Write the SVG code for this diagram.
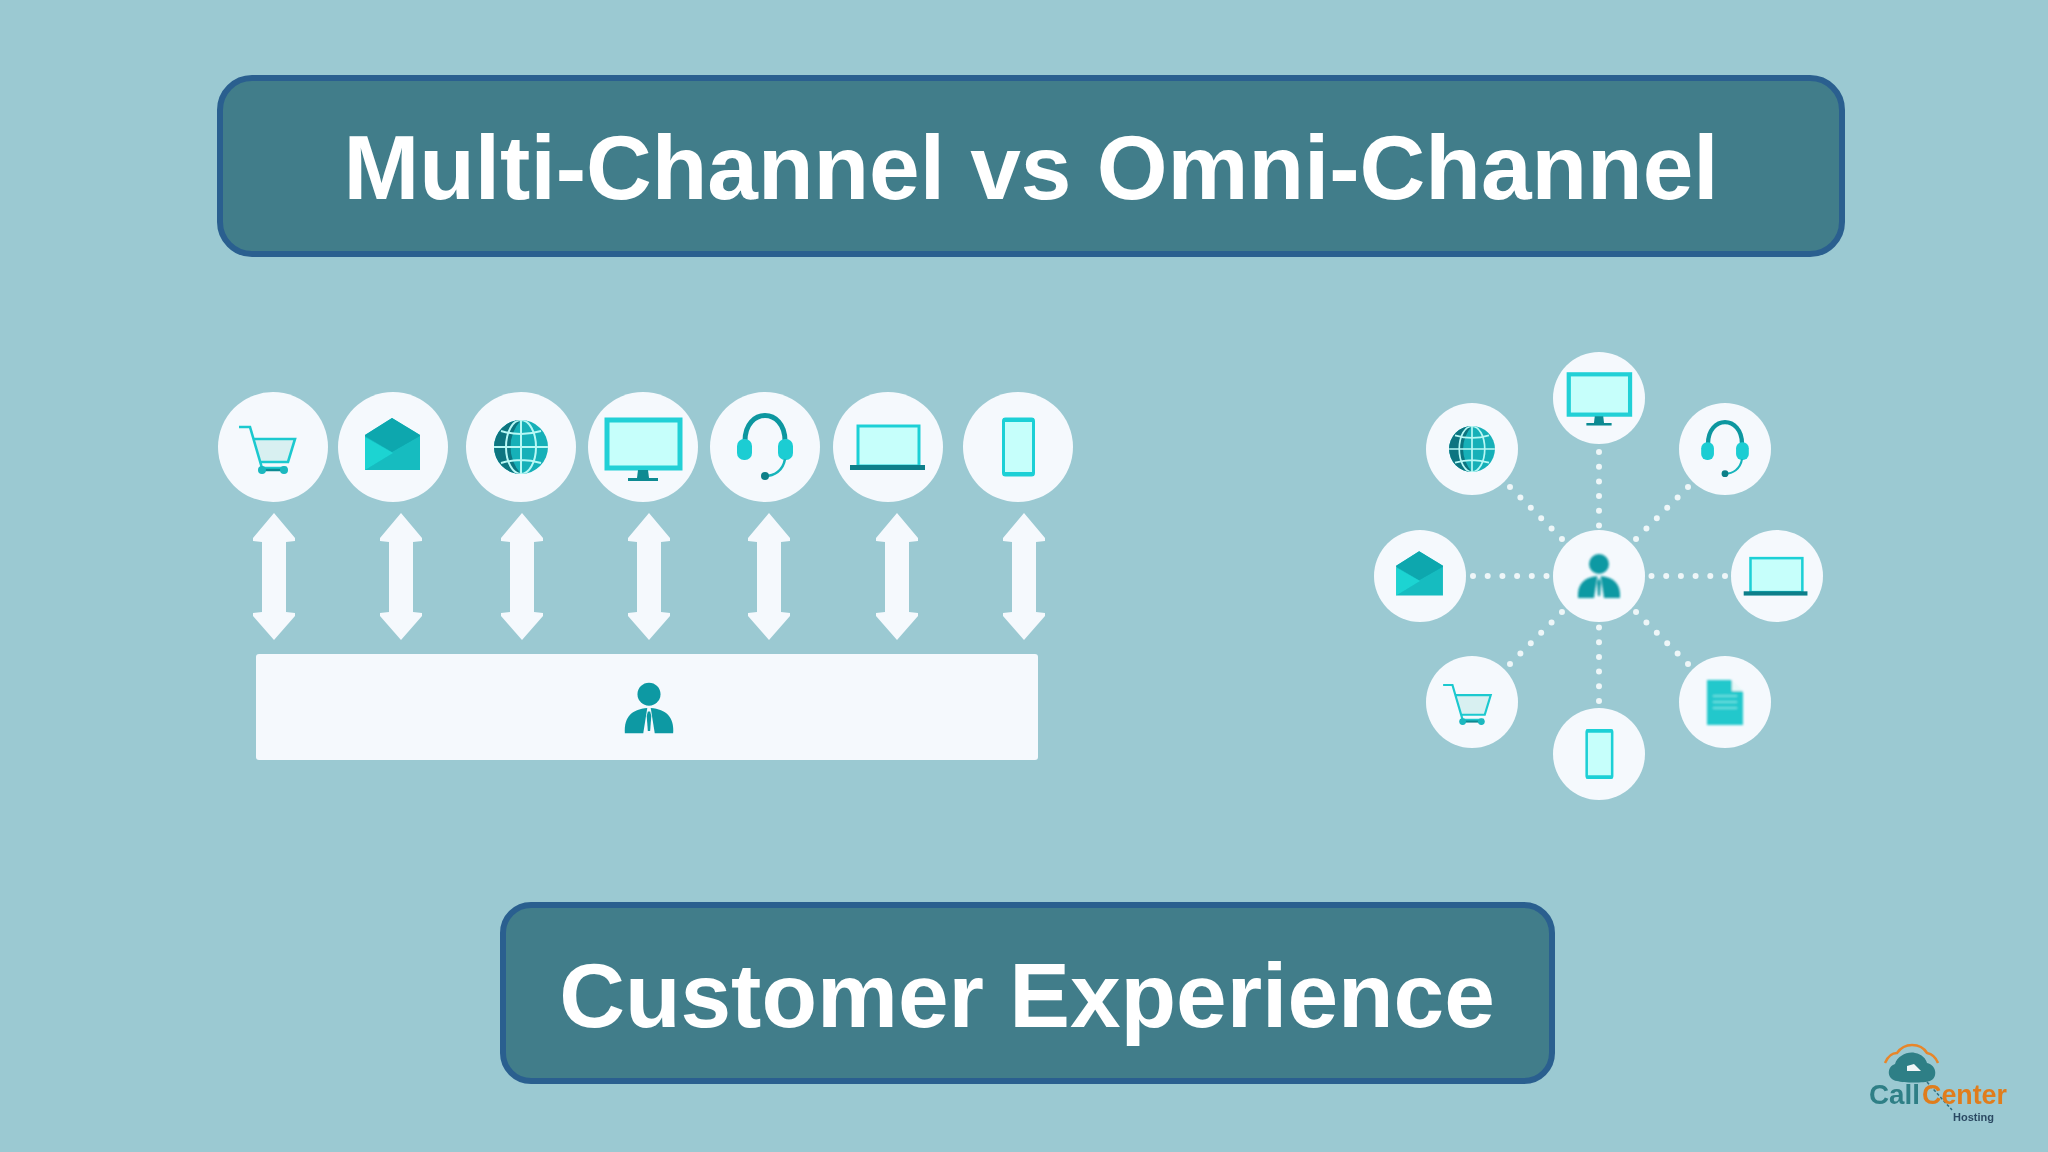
<svg xmlns="http://www.w3.org/2000/svg" width="2048" height="1152" viewBox="0 0 2048 1152">
<style>
.box{fill:#417d8a;stroke:#2a5f8f;stroke-width:6}
.ttl{font-family:"Liberation Sans",Arial,sans-serif;font-weight:700;fill:#fff;text-anchor:middle;font-size:91px}
.disc{fill:#f5f9fd}
.dots{fill:none;stroke:#eef6f8;stroke-width:6;stroke-linecap:round;stroke-dasharray:0 14.700}
.lg{font-family:"Liberation Sans",Arial,sans-serif;font-weight:700}
</style>
<defs>
<filter id="s1" x="-10%" y="-10%" width="120%" height="120%"><feGaussianBlur stdDeviation="0.5"/></filter>
<filter id="s2" x="-10%" y="-10%" width="120%" height="120%"><feGaussianBlur stdDeviation="0.9"/></filter>
<clipPath id="gc"><circle r="27"/></clipPath>
<path id="dbl" d="M0 0L21 25V28L12 29V99L21 100V103L0 127L-21 103V100L-12 99V29L-21 28V25Z" fill="#f5f9fd"/>
<g id="cart">
<path d="M-18-8H22L15 15H-12Z" fill="#d8f0f1"/>
<path d="M-34-20H-23L-11 21H14M-19-8H22L15 15H-13" fill="none" stroke="#1ec9cf" stroke-width="2.600"/>
<path d="M-10 23H11" stroke="#0c8a92" stroke-width="2.500"/>
<circle cx="-11" cy="23" r="4" fill="#1ab8bf"/><circle cx="11" cy="23" r="4" fill="#1ab8bf"/>
</g>
<g id="mail">
<path d="M-28-12L-1-29L27-12V23H-28Z" fill="#14bcc0"/>
<path d="M-28-12L-1-29L27-12V-11L-1 5L-28-11Z" fill="#0fa7ae"/>
<path d="M-28-10L0 6L-28 23Z" fill="#1cd4d2"/>
</g>
<g id="globe">
<circle r="27" fill="#16b0b8"/>
<path d="M0-27A27 27 0 0 0 0 27A40 40 0 0 1 0-27Z" fill="#0a7580"/>
<g clip-path="url(#gc)" fill="none" stroke="#b8f8f5" stroke-width="2">
<path d="M-27 0H27M0-27V27M-20-16Q0-10 20-16M-20 16Q0 10 20 16"/>
<ellipse rx="15" ry="27"/>
</g>
</g>
<g id="monitor">
<rect x="-36" y="-27" width="73" height="48" fill="#c6fffb" stroke="#20d0d6" stroke-width="5"/>
<path d="M-5 23H5L6 31H15V34H-15V31H-6Z" fill="#0b8a92"/>
</g>
<g id="head">
<path d="M-20-6C-20-40 20-40 20-6" fill="none" stroke="#0f97a0" stroke-width="5"/>
<rect x="-28" y="-8" width="15" height="21" rx="7" fill="#1ccdd3"/>
<rect x="13" y="-8" width="15" height="21" rx="7" fill="#1ccdd3"/>
<path d="M20 12C18 24 9 29 0 29" fill="none" stroke="#15b4bb" stroke-width="2.500"/>
<circle cy="29" r="4" fill="#0b7f88"/>
</g>
<g id="laptop">
<rect x="-30" y="-21" width="61" height="40" fill="#c6fffb" stroke="#1fd0d6" stroke-width="3"/>
<rect x="-38" y="18" width="75" height="5" fill="#0a7f8a"/>
</g>
<g id="phone">
<rect x="-14.500" y="-28" width="30" height="56" rx="2" fill="#c6fffb" stroke="#1fd0d6" stroke-width="3"/>
<path d="M-15-29H16V-25H-15ZM-15 25H16V29H-15Z" fill="#1fd0d6"/>
</g>
<g id="person" fill="#0e99a3">
<circle cy="-12" r="10"/>
<path d="M-1.500 0L-5 22H-21C-22 8-15 1-1.500 0Z"/>
<path d="M1.500 0L5 22H21C22 8 15 1 1.500 0Z"/>
<path d="M-1 3H1L2 7L1 20H-1L-2 7Z"/>
</g>
<g id="doc">
<path d="M-18-22H6L18-10V23H-18Z" fill="#20c8cc"/>
<path d="M-12-6H12M-12 0H12M-12 6H12" stroke="#7fe5e5" stroke-width="1.500"/>
<path d="M7-22L18-11H7Z" fill="#e8f8f8"/>
</g>
</defs>

<rect id="background" width="2048" height="1152" fill="#9bc9d2"/>

<g id="title-box">
<rect class="box" x="220" y="78" width="1622" height="176" rx="32"/>
<text class="ttl" x="1031" y="199">Multi-Channel vs Omni-Channel</text>
</g>

<g id="multi-connectors" filter="url(#s1)">
<use href="#dbl" x="274" y="513"/>
<use href="#dbl" x="401" y="513"/>
<use href="#dbl" x="522" y="513"/>
<use href="#dbl" x="649" y="513"/>
<use href="#dbl" x="769" y="513"/>
<use href="#dbl" x="897" y="513"/>
<use href="#dbl" x="1024" y="513"/>
</g>

<g id="multi-cart"><circle class="disc" cx="273" cy="447" r="55"/><use href="#cart" transform="translate(273 447)" filter="url(#s1)"/></g>
<g id="multi-mail"><circle class="disc" cx="393" cy="447" r="55"/><use href="#mail" transform="translate(393 447)" filter="url(#s1)"/></g>
<g id="multi-globe"><circle class="disc" cx="521" cy="447" r="55"/><use href="#globe" transform="translate(521 447)" filter="url(#s1)"/></g>
<g id="multi-monitor"><circle class="disc" cx="643" cy="447" r="55"/><use href="#monitor" transform="translate(643 447)" filter="url(#s1)"/></g>
<g id="multi-headset"><circle class="disc" cx="765" cy="447" r="55"/><use href="#head" transform="translate(765 447)" filter="url(#s1)"/></g>
<g id="multi-laptop"><circle class="disc" cx="888" cy="447" r="55"/><use href="#laptop" transform="translate(888 447)" filter="url(#s1)"/></g>
<g id="multi-phone"><circle class="disc" cx="1018" cy="447" r="55"/><use href="#phone" transform="translate(1018 447)" filter="url(#s1)"/></g>

<g id="multi-customer">
<rect x="256" y="654" width="782" height="106" rx="3" fill="#f5f9fd"/>
<use href="#person" transform="translate(649 708) scale(1.150)" filter="url(#s1)"/>
</g>

<g id="omni-connectors" class="dots" filter="url(#s1)">
<path d="M1473 576H1549"/>
<path d="M1725 576H1649"/>
<path d="M1599 452V526"/>
<path d="M1599 701V626"/>
<path d="M1510 487L1564 541"/>
<path d="M1688 487L1634 541"/>
<path d="M1510 664L1564 610"/>
<path d="M1688 664L1634 610"/>
</g>

<g id="omni-monitor"><circle class="disc" cx="1599" cy="398" r="46"/><use href="#monitor" transform="translate(1599 397) scale(.84)" filter="url(#s2)"/></g>
<g id="omni-globe"><circle class="disc" cx="1472" cy="449" r="46"/><use href="#globe" transform="translate(1472 449) scale(.85)" filter="url(#s2)"/></g>
<g id="omni-headset"><circle class="disc" cx="1725" cy="449" r="46"/><use href="#head" transform="translate(1725 449) scale(.85)" filter="url(#s2)"/></g>
<g id="omni-mail"><circle class="disc" cx="1420" cy="576" r="46"/><use href="#mail" transform="translate(1420 576) scale(.85)" filter="url(#s2)"/></g>
<g id="omni-customer"><circle class="disc" cx="1599" cy="576" r="46"/><use href="#person" transform="translate(1599 576)" filter="url(#s2)"/></g>
<g id="omni-laptop"><circle class="disc" cx="1777" cy="576" r="46"/><use href="#laptop" transform="translate(1776 576) scale(.85)" filter="url(#s2)"/></g>
<g id="omni-cart"><circle class="disc" cx="1472" cy="702" r="46"/><use href="#cart" transform="translate(1472 702) scale(.85)" filter="url(#s2)"/></g>
<g id="omni-doc"><circle class="disc" cx="1725" cy="702" r="46"/><use href="#doc" transform="translate(1725 702)" filter="url(#s2)"/></g>
<g id="omni-phone"><circle class="disc" cx="1599" cy="754" r="46"/><use href="#phone" transform="translate(1599 754) scale(.85)" filter="url(#s2)"/></g>

<g id="subtitle-box">
<rect class="box" x="503" y="905" width="1049" height="176" rx="28"/>
<text class="ttl" x="1027" y="1027">Customer Experience</text>
</g>

<g id="logo" filter="url(#s1)">
<path d="M1885 1063C1888 1056 1893 1053 1897 1053C1902 1046 1908 1045 1912 1045C1918 1045 1924 1048 1927 1053C1932 1054 1936 1058 1938 1063" fill="none" stroke="#e8862a" stroke-width="2.500"/>
<path d="M1897 1081C1887 1080 1886 1067 1895 1064C1897 1056 1908 1051 1915 1053C1922 1054 1926 1059 1927 1063C1937 1065 1938 1078 1930 1081C1924 1083 1904 1083 1897 1081Z" fill="#2f7f86"/>
<path d="M1907 1066L1914 1064L1921 1071H1907Z" fill="#f2f7f8"/>
<path d="M1927 1082L1952 1110" stroke="#2f6f80" stroke-width="1.500" stroke-dasharray="3 2"/>
<text class="lg" x="1869" y="1104" font-size="28" textLength="51" lengthAdjust="spacingAndGlyphs" fill="#2f7f86">Call</text>
<text class="lg" x="1922" y="1104" font-size="28" textLength="85" lengthAdjust="spacingAndGlyphs" fill="#e07d1f">Center</text>
<text class="lg" x="1953" y="1121" font-size="11" fill="#2c4a63">Hosting</text>
</g>
</svg>
